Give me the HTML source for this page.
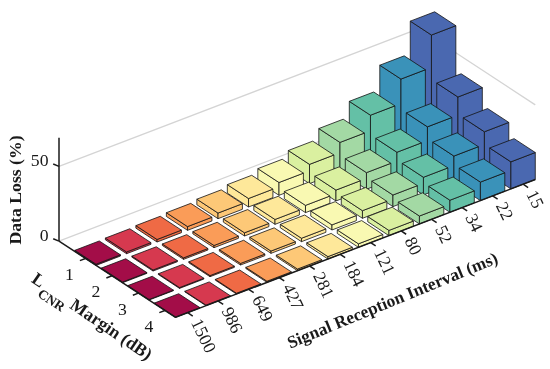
<!DOCTYPE html>
<html lang="en"><head><meta charset="utf-8"><title>Data Loss chart</title>
<style>html,body{margin:0;padding:0;background:#fff}body{width:550px;height:369px;overflow:hidden}svg{display:block}</style></head>
<body>
<svg width="550" height="369" viewBox="0 0 550 369">
<rect width="550" height="369" fill="#ffffff"/>
<line x1="59.00" y1="241.10" x2="418.78" y2="103.28" stroke="#d4d4d4" stroke-width="1.3" stroke-linecap="butt"/>
<line x1="418.78" y1="103.28" x2="535.29" y2="179.57" stroke="#d4d4d4" stroke-width="1.3" stroke-linecap="butt"/>
<line x1="59.00" y1="166.40" x2="418.78" y2="28.58" stroke="#d4d4d4" stroke-width="1.3" stroke-linecap="butt"/>
<line x1="418.78" y1="28.58" x2="535.29" y2="104.87" stroke="#d4d4d4" stroke-width="1.3" stroke-linecap="butt"/>
<polygon points="410.28,123.02 431.46,136.90 431.46,35.03 410.28,21.15" fill="#4a68b0" stroke="#141414" stroke-width="0.8" stroke-linejoin="round"/>
<polygon points="431.46,136.90 455.85,127.55 455.85,25.68 431.46,35.03" fill="#4a68b0" stroke="#141414" stroke-width="0.8" stroke-linejoin="round"/>
<polygon points="410.28,21.15 431.46,35.03 455.85,25.68 434.67,11.81" fill="#4a68b0" stroke="#141414" stroke-width="0.8" stroke-linejoin="round"/>
<polygon points="379.79,134.70 400.97,148.58 400.97,79.06 379.79,65.19" fill="#3a92b9" stroke="#141414" stroke-width="0.8" stroke-linejoin="round"/>
<polygon points="400.97,148.58 425.36,139.23 425.36,69.72 400.97,79.06" fill="#3a92b9" stroke="#141414" stroke-width="0.8" stroke-linejoin="round"/>
<polygon points="379.79,65.19 400.97,79.06 425.36,69.72 404.18,55.85" fill="#3a92b9" stroke="#141414" stroke-width="0.8" stroke-linejoin="round"/>
<polygon points="349.30,146.38 370.48,160.26 370.48,115.21 349.30,101.34" fill="#64c0a6" stroke="#141414" stroke-width="0.8" stroke-linejoin="round"/>
<polygon points="370.48,160.26 394.87,150.91 394.87,105.87 370.48,115.21" fill="#64c0a6" stroke="#141414" stroke-width="0.8" stroke-linejoin="round"/>
<polygon points="349.30,101.34 370.48,115.21 394.87,105.87 373.69,92.00" fill="#64c0a6" stroke="#141414" stroke-width="0.8" stroke-linejoin="round"/>
<polygon points="318.81,158.06 339.99,171.94 339.99,142.42 318.81,128.55" fill="#a3d9a4" stroke="#141414" stroke-width="0.8" stroke-linejoin="round"/>
<polygon points="339.99,171.94 364.38,162.59 364.38,133.08 339.99,142.42" fill="#a3d9a4" stroke="#141414" stroke-width="0.8" stroke-linejoin="round"/>
<polygon points="318.81,128.55 339.99,142.42 364.38,133.08 343.20,119.21" fill="#a3d9a4" stroke="#141414" stroke-width="0.8" stroke-linejoin="round"/>
<polygon points="288.32,169.74 309.50,183.62 309.50,164.37 288.32,150.50" fill="#daf0a0" stroke="#141414" stroke-width="0.8" stroke-linejoin="round"/>
<polygon points="309.50,183.62 333.89,174.27 333.89,155.03 309.50,164.37" fill="#daf0a0" stroke="#141414" stroke-width="0.8" stroke-linejoin="round"/>
<polygon points="288.32,150.50 309.50,164.37 333.89,155.03 312.71,141.15" fill="#daf0a0" stroke="#141414" stroke-width="0.8" stroke-linejoin="round"/>
<polygon points="257.83,181.42 279.01,195.30 279.01,182.51 257.83,168.64" fill="#f9f9b2" stroke="#141414" stroke-width="0.8" stroke-linejoin="round"/>
<polygon points="279.01,195.30 303.40,185.95 303.40,173.17 279.01,182.51" fill="#f9f9b2" stroke="#141414" stroke-width="0.8" stroke-linejoin="round"/>
<polygon points="257.83,168.64 279.01,182.51 303.40,173.17 282.22,159.29" fill="#f9f9b2" stroke="#141414" stroke-width="0.8" stroke-linejoin="round"/>
<polygon points="227.34,193.10 248.52,206.98 248.52,198.51 227.34,184.63" fill="#fee89a" stroke="#141414" stroke-width="0.8" stroke-linejoin="round"/>
<polygon points="248.52,206.98 272.91,197.63 272.91,189.16 248.52,198.51" fill="#fee89a" stroke="#141414" stroke-width="0.8" stroke-linejoin="round"/>
<polygon points="227.34,184.63 248.52,198.51 272.91,189.16 251.73,175.29" fill="#fee89a" stroke="#141414" stroke-width="0.8" stroke-linejoin="round"/>
<polygon points="196.85,204.78 218.03,218.66 218.03,213.05 196.85,199.18" fill="#fdc877" stroke="#141414" stroke-width="0.8" stroke-linejoin="round"/>
<polygon points="218.03,218.66 242.42,209.31 242.42,203.70 218.03,213.05" fill="#fdc877" stroke="#141414" stroke-width="0.8" stroke-linejoin="round"/>
<polygon points="196.85,199.18 218.03,213.05 242.42,203.70 221.24,189.83" fill="#fdc877" stroke="#141414" stroke-width="0.8" stroke-linejoin="round"/>
<polygon points="166.36,216.46 187.54,230.34 187.54,226.58 166.36,212.71" fill="#fa9c58" stroke="#141414" stroke-width="0.8" stroke-linejoin="round"/>
<polygon points="187.54,230.34 211.93,220.99 211.93,217.24 187.54,226.58" fill="#fa9c58" stroke="#141414" stroke-width="0.8" stroke-linejoin="round"/>
<polygon points="166.36,212.71 187.54,226.58 211.93,217.24 190.75,203.37" fill="#fa9c58" stroke="#141414" stroke-width="0.8" stroke-linejoin="round"/>
<polygon points="135.87,228.14 157.05,242.02 157.05,239.49 135.87,225.61" fill="#ef6a45" stroke="#141414" stroke-width="0.8" stroke-linejoin="round"/>
<polygon points="157.05,242.02 181.44,232.67 181.44,230.14 157.05,239.49" fill="#ef6a45" stroke="#141414" stroke-width="0.8" stroke-linejoin="round"/>
<polygon points="135.87,225.61 157.05,239.49 181.44,230.14 160.26,216.27" fill="#ef6a45" stroke="#141414" stroke-width="0.8" stroke-linejoin="round"/>
<polygon points="105.38,239.82 126.56,253.70 126.56,251.97 105.38,238.10" fill="#d6394f" stroke="#141414" stroke-width="0.8" stroke-linejoin="round"/>
<polygon points="126.56,253.70 150.95,244.35 150.95,242.63 126.56,251.97" fill="#d6394f" stroke="#141414" stroke-width="0.8" stroke-linejoin="round"/>
<polygon points="105.38,238.10 126.56,251.97 150.95,242.63 129.77,228.75" fill="#d6394f" stroke="#141414" stroke-width="0.8" stroke-linejoin="round"/>
<polygon points="74.89,251.50 96.07,265.38 96.07,264.18 74.89,250.31" fill="#a30d48" stroke="#141414" stroke-width="0.8" stroke-linejoin="round"/>
<polygon points="96.07,265.38 120.46,256.03 120.46,254.84 96.07,264.18" fill="#a30d48" stroke="#141414" stroke-width="0.8" stroke-linejoin="round"/>
<polygon points="74.89,250.31 96.07,264.18 120.46,254.84 99.28,240.96" fill="#a30d48" stroke="#141414" stroke-width="0.8" stroke-linejoin="round"/>
<polygon points="436.76,140.36 457.94,154.24 457.94,96.99 436.76,83.11" fill="#4a68b0" stroke="#141414" stroke-width="0.8" stroke-linejoin="round"/>
<polygon points="457.94,154.24 482.33,144.89 482.33,87.64 457.94,96.99" fill="#4a68b0" stroke="#141414" stroke-width="0.8" stroke-linejoin="round"/>
<polygon points="436.76,83.11 457.94,96.99 482.33,87.64 461.15,73.77" fill="#4a68b0" stroke="#141414" stroke-width="0.8" stroke-linejoin="round"/>
<polygon points="406.27,152.04 427.45,165.92 427.45,126.82 406.27,112.95" fill="#3a92b9" stroke="#141414" stroke-width="0.8" stroke-linejoin="round"/>
<polygon points="427.45,165.92 451.84,156.57 451.84,117.48 427.45,126.82" fill="#3a92b9" stroke="#141414" stroke-width="0.8" stroke-linejoin="round"/>
<polygon points="406.27,112.95 427.45,126.82 451.84,117.48 430.66,103.61" fill="#3a92b9" stroke="#141414" stroke-width="0.8" stroke-linejoin="round"/>
<polygon points="375.78,163.72 396.96,177.60 396.96,152.24 375.78,138.37" fill="#64c0a6" stroke="#141414" stroke-width="0.8" stroke-linejoin="round"/>
<polygon points="396.96,177.60 421.35,168.25 421.35,142.89 396.96,152.24" fill="#64c0a6" stroke="#141414" stroke-width="0.8" stroke-linejoin="round"/>
<polygon points="375.78,138.37 396.96,152.24 421.35,142.89 400.17,129.02" fill="#64c0a6" stroke="#141414" stroke-width="0.8" stroke-linejoin="round"/>
<polygon points="345.29,175.40 366.47,189.28 366.47,172.63 345.29,158.76" fill="#a3d9a4" stroke="#141414" stroke-width="0.8" stroke-linejoin="round"/>
<polygon points="366.47,189.28 390.86,179.93 390.86,163.29 366.47,172.63" fill="#a3d9a4" stroke="#141414" stroke-width="0.8" stroke-linejoin="round"/>
<polygon points="345.29,158.76 366.47,172.63 390.86,163.29 369.68,149.42" fill="#a3d9a4" stroke="#141414" stroke-width="0.8" stroke-linejoin="round"/>
<polygon points="314.80,187.08 335.98,200.96 335.98,190.08 314.80,176.20" fill="#daf0a0" stroke="#141414" stroke-width="0.8" stroke-linejoin="round"/>
<polygon points="335.98,200.96 360.37,191.61 360.37,180.73 335.98,190.08" fill="#daf0a0" stroke="#141414" stroke-width="0.8" stroke-linejoin="round"/>
<polygon points="314.80,176.20 335.98,190.08 360.37,180.73 339.19,166.86" fill="#daf0a0" stroke="#141414" stroke-width="0.8" stroke-linejoin="round"/>
<polygon points="284.31,198.76 305.49,212.64 305.49,205.38 284.31,191.51" fill="#f9f9b2" stroke="#141414" stroke-width="0.8" stroke-linejoin="round"/>
<polygon points="305.49,212.64 329.88,203.29 329.88,196.04 305.49,205.38" fill="#f9f9b2" stroke="#141414" stroke-width="0.8" stroke-linejoin="round"/>
<polygon points="284.31,191.51 305.49,205.38 329.88,196.04 308.70,182.17" fill="#f9f9b2" stroke="#141414" stroke-width="0.8" stroke-linejoin="round"/>
<polygon points="253.82,210.44 275.00,224.32 275.00,219.48 253.82,205.61" fill="#fee89a" stroke="#141414" stroke-width="0.8" stroke-linejoin="round"/>
<polygon points="275.00,224.32 299.39,214.97 299.39,210.14 275.00,219.48" fill="#fee89a" stroke="#141414" stroke-width="0.8" stroke-linejoin="round"/>
<polygon points="253.82,205.61 275.00,219.48 299.39,210.14 278.21,196.27" fill="#fee89a" stroke="#141414" stroke-width="0.8" stroke-linejoin="round"/>
<polygon points="223.33,222.12 244.51,236.00 244.51,232.77 223.33,218.90" fill="#fdc877" stroke="#141414" stroke-width="0.8" stroke-linejoin="round"/>
<polygon points="244.51,236.00 268.90,226.65 268.90,223.43 244.51,232.77" fill="#fdc877" stroke="#141414" stroke-width="0.8" stroke-linejoin="round"/>
<polygon points="223.33,218.90 244.51,232.77 268.90,223.43 247.72,209.55" fill="#fdc877" stroke="#141414" stroke-width="0.8" stroke-linejoin="round"/>
<polygon points="192.84,233.80 214.02,247.68 214.02,245.49 192.84,231.62" fill="#fa9c58" stroke="#141414" stroke-width="0.8" stroke-linejoin="round"/>
<polygon points="214.02,247.68 238.41,238.33 238.41,236.15 214.02,245.49" fill="#fa9c58" stroke="#141414" stroke-width="0.8" stroke-linejoin="round"/>
<polygon points="192.84,231.62 214.02,245.49 238.41,236.15 217.23,222.28" fill="#fa9c58" stroke="#141414" stroke-width="0.8" stroke-linejoin="round"/>
<polygon points="162.35,245.48 183.53,259.36 183.53,257.86 162.35,243.99" fill="#ef6a45" stroke="#141414" stroke-width="0.8" stroke-linejoin="round"/>
<polygon points="183.53,259.36 207.92,250.01 207.92,248.51 183.53,257.86" fill="#ef6a45" stroke="#141414" stroke-width="0.8" stroke-linejoin="round"/>
<polygon points="162.35,243.99 183.53,257.86 207.92,248.51 186.74,234.64" fill="#ef6a45" stroke="#141414" stroke-width="0.8" stroke-linejoin="round"/>
<polygon points="131.86,257.16 153.04,271.04 153.04,269.99 131.86,256.12" fill="#d6394f" stroke="#141414" stroke-width="0.8" stroke-linejoin="round"/>
<polygon points="153.04,271.04 177.43,261.69 177.43,260.64 153.04,269.99" fill="#d6394f" stroke="#141414" stroke-width="0.8" stroke-linejoin="round"/>
<polygon points="131.86,256.12 153.04,269.99 177.43,260.64 156.25,246.77" fill="#d6394f" stroke="#141414" stroke-width="0.8" stroke-linejoin="round"/>
<polygon points="101.37,268.84 122.55,282.72 122.55,281.97 101.37,268.09" fill="#a30d48" stroke="#141414" stroke-width="0.8" stroke-linejoin="round"/>
<polygon points="122.55,282.72 146.94,273.37 146.94,272.62 122.55,281.97" fill="#a30d48" stroke="#141414" stroke-width="0.8" stroke-linejoin="round"/>
<polygon points="101.37,268.09 122.55,281.97 146.94,272.62 125.76,258.75" fill="#a30d48" stroke="#141414" stroke-width="0.8" stroke-linejoin="round"/>
<polygon points="463.24,157.70 484.42,171.58 484.42,131.76 463.24,117.88" fill="#4a68b0" stroke="#141414" stroke-width="0.8" stroke-linejoin="round"/>
<polygon points="484.42,171.58 508.81,162.23 508.81,122.41 484.42,131.76" fill="#4a68b0" stroke="#141414" stroke-width="0.8" stroke-linejoin="round"/>
<polygon points="463.24,117.88 484.42,131.76 508.81,122.41 487.63,108.54" fill="#4a68b0" stroke="#141414" stroke-width="0.8" stroke-linejoin="round"/>
<polygon points="432.75,169.38 453.93,183.26 453.93,156.05 432.75,142.18" fill="#3a92b9" stroke="#141414" stroke-width="0.8" stroke-linejoin="round"/>
<polygon points="453.93,183.26 478.32,173.91 478.32,146.70 453.93,156.05" fill="#3a92b9" stroke="#141414" stroke-width="0.8" stroke-linejoin="round"/>
<polygon points="432.75,142.18 453.93,156.05 478.32,146.70 457.14,132.83" fill="#3a92b9" stroke="#141414" stroke-width="0.8" stroke-linejoin="round"/>
<polygon points="402.26,181.06 423.44,194.94 423.44,177.27 402.26,163.40" fill="#64c0a6" stroke="#141414" stroke-width="0.8" stroke-linejoin="round"/>
<polygon points="423.44,194.94 447.83,185.59 447.83,167.92 423.44,177.27" fill="#64c0a6" stroke="#141414" stroke-width="0.8" stroke-linejoin="round"/>
<polygon points="402.26,163.40 423.44,177.27 447.83,167.92 426.65,154.05" fill="#64c0a6" stroke="#141414" stroke-width="0.8" stroke-linejoin="round"/>
<polygon points="371.77,192.74 392.95,206.62 392.95,195.00 371.77,181.13" fill="#a3d9a4" stroke="#141414" stroke-width="0.8" stroke-linejoin="round"/>
<polygon points="392.95,206.62 417.34,197.27 417.34,185.66 392.95,195.00" fill="#a3d9a4" stroke="#141414" stroke-width="0.8" stroke-linejoin="round"/>
<polygon points="371.77,181.13 392.95,195.00 417.34,185.66 396.16,171.79" fill="#a3d9a4" stroke="#141414" stroke-width="0.8" stroke-linejoin="round"/>
<polygon points="341.28,204.42 362.46,218.30 362.46,210.68 341.28,196.81" fill="#daf0a0" stroke="#141414" stroke-width="0.8" stroke-linejoin="round"/>
<polygon points="362.46,218.30 386.85,208.95 386.85,201.34 362.46,210.68" fill="#daf0a0" stroke="#141414" stroke-width="0.8" stroke-linejoin="round"/>
<polygon points="341.28,196.81 362.46,210.68 386.85,201.34 365.67,187.47" fill="#daf0a0" stroke="#141414" stroke-width="0.8" stroke-linejoin="round"/>
<polygon points="310.79,216.10 331.97,229.98 331.97,224.88 310.79,211.01" fill="#f9f9b2" stroke="#141414" stroke-width="0.8" stroke-linejoin="round"/>
<polygon points="331.97,229.98 356.36,220.63 356.36,215.54 331.97,224.88" fill="#f9f9b2" stroke="#141414" stroke-width="0.8" stroke-linejoin="round"/>
<polygon points="310.79,211.01 331.97,224.88 356.36,215.54 335.18,201.67" fill="#f9f9b2" stroke="#141414" stroke-width="0.8" stroke-linejoin="round"/>
<polygon points="280.30,227.78 301.48,241.66 301.48,238.25 280.30,224.37" fill="#fee89a" stroke="#141414" stroke-width="0.8" stroke-linejoin="round"/>
<polygon points="301.48,241.66 325.87,232.31 325.87,228.90 301.48,238.25" fill="#fee89a" stroke="#141414" stroke-width="0.8" stroke-linejoin="round"/>
<polygon points="280.30,224.37 301.48,238.25 325.87,228.90 304.69,215.03" fill="#fee89a" stroke="#141414" stroke-width="0.8" stroke-linejoin="round"/>
<polygon points="249.81,239.46 270.99,253.34 270.99,251.04 249.81,237.17" fill="#fdc877" stroke="#141414" stroke-width="0.8" stroke-linejoin="round"/>
<polygon points="270.99,253.34 295.38,243.99 295.38,241.70 270.99,251.04" fill="#fdc877" stroke="#141414" stroke-width="0.8" stroke-linejoin="round"/>
<polygon points="249.81,237.17 270.99,251.04 295.38,241.70 274.20,227.82" fill="#fdc877" stroke="#141414" stroke-width="0.8" stroke-linejoin="round"/>
<polygon points="219.32,251.14 240.50,265.02 240.50,263.44 219.32,249.57" fill="#fa9c58" stroke="#141414" stroke-width="0.8" stroke-linejoin="round"/>
<polygon points="240.50,265.02 264.89,255.67 264.89,254.10 240.50,263.44" fill="#fa9c58" stroke="#141414" stroke-width="0.8" stroke-linejoin="round"/>
<polygon points="219.32,249.57 240.50,263.44 264.89,254.10 243.71,240.23" fill="#fa9c58" stroke="#141414" stroke-width="0.8" stroke-linejoin="round"/>
<polygon points="188.83,262.82 210.01,276.70 210.01,275.60 188.83,261.73" fill="#ef6a45" stroke="#141414" stroke-width="0.8" stroke-linejoin="round"/>
<polygon points="210.01,276.70 234.40,267.35 234.40,266.26 210.01,275.60" fill="#ef6a45" stroke="#141414" stroke-width="0.8" stroke-linejoin="round"/>
<polygon points="188.83,261.73 210.01,275.60 234.40,266.26 213.22,252.38" fill="#ef6a45" stroke="#141414" stroke-width="0.8" stroke-linejoin="round"/>
<polygon points="158.34,274.50 179.52,288.38 179.52,287.59 158.34,273.72" fill="#d6394f" stroke="#141414" stroke-width="0.8" stroke-linejoin="round"/>
<polygon points="179.52,288.38 203.91,279.03 203.91,278.25 179.52,287.59" fill="#d6394f" stroke="#141414" stroke-width="0.8" stroke-linejoin="round"/>
<polygon points="158.34,273.72 179.52,287.59 203.91,278.25 182.73,264.38" fill="#d6394f" stroke="#141414" stroke-width="0.8" stroke-linejoin="round"/>
<polygon points="127.85,286.18 149.03,300.06 149.03,299.48 127.85,285.61" fill="#a30d48" stroke="#141414" stroke-width="0.8" stroke-linejoin="round"/>
<polygon points="149.03,300.06 173.42,290.71 173.42,290.14 149.03,299.48" fill="#a30d48" stroke="#141414" stroke-width="0.8" stroke-linejoin="round"/>
<polygon points="127.85,285.61 149.03,299.48 173.42,290.14 152.24,276.26" fill="#a30d48" stroke="#141414" stroke-width="0.8" stroke-linejoin="round"/>
<polygon points="489.72,175.04 510.90,188.92 510.90,161.84 489.72,147.97" fill="#4a68b0" stroke="#141414" stroke-width="0.8" stroke-linejoin="round"/>
<polygon points="510.90,188.92 535.29,179.57 535.29,152.50 510.90,161.84" fill="#4a68b0" stroke="#141414" stroke-width="0.8" stroke-linejoin="round"/>
<polygon points="489.72,147.97 510.90,161.84 535.29,152.50 514.11,138.63" fill="#4a68b0" stroke="#141414" stroke-width="0.8" stroke-linejoin="round"/>
<polygon points="459.23,186.72 480.41,200.60 480.41,182.08 459.23,168.21" fill="#3a92b9" stroke="#141414" stroke-width="0.8" stroke-linejoin="round"/>
<polygon points="480.41,200.60 504.80,191.25 504.80,172.74 480.41,182.08" fill="#3a92b9" stroke="#141414" stroke-width="0.8" stroke-linejoin="round"/>
<polygon points="459.23,168.21 480.41,182.08 504.80,172.74 483.62,158.87" fill="#3a92b9" stroke="#141414" stroke-width="0.8" stroke-linejoin="round"/>
<polygon points="428.74,198.40 449.92,212.28 449.92,200.23 428.74,186.36" fill="#64c0a6" stroke="#141414" stroke-width="0.8" stroke-linejoin="round"/>
<polygon points="449.92,212.28 474.31,202.93 474.31,190.89 449.92,200.23" fill="#64c0a6" stroke="#141414" stroke-width="0.8" stroke-linejoin="round"/>
<polygon points="428.74,186.36 449.92,200.23 474.31,190.89 453.13,177.02" fill="#64c0a6" stroke="#141414" stroke-width="0.8" stroke-linejoin="round"/>
<polygon points="398.25,210.08 419.43,223.96 419.43,216.02 398.25,202.15" fill="#a3d9a4" stroke="#141414" stroke-width="0.8" stroke-linejoin="round"/>
<polygon points="419.43,223.96 443.82,214.61 443.82,206.68 419.43,216.02" fill="#a3d9a4" stroke="#141414" stroke-width="0.8" stroke-linejoin="round"/>
<polygon points="398.25,202.15 419.43,216.02 443.82,206.68 422.64,192.80" fill="#a3d9a4" stroke="#141414" stroke-width="0.8" stroke-linejoin="round"/>
<polygon points="367.76,221.76 388.94,235.64 388.94,230.41 367.76,216.54" fill="#daf0a0" stroke="#141414" stroke-width="0.8" stroke-linejoin="round"/>
<polygon points="388.94,235.64 413.33,226.29 413.33,221.07 388.94,230.41" fill="#daf0a0" stroke="#141414" stroke-width="0.8" stroke-linejoin="round"/>
<polygon points="367.76,216.54 388.94,230.41 413.33,221.07 392.15,207.20" fill="#daf0a0" stroke="#141414" stroke-width="0.8" stroke-linejoin="round"/>
<polygon points="337.27,233.44 358.45,247.32 358.45,243.80 337.27,229.93" fill="#f9f9b2" stroke="#141414" stroke-width="0.8" stroke-linejoin="round"/>
<polygon points="358.45,247.32 382.84,237.97 382.84,234.46 358.45,243.80" fill="#f9f9b2" stroke="#141414" stroke-width="0.8" stroke-linejoin="round"/>
<polygon points="337.27,229.93 358.45,243.80 382.84,234.46 361.66,220.59" fill="#f9f9b2" stroke="#141414" stroke-width="0.8" stroke-linejoin="round"/>
<polygon points="306.78,245.12 327.96,259.00 327.96,256.62 306.78,242.75" fill="#fee89a" stroke="#141414" stroke-width="0.8" stroke-linejoin="round"/>
<polygon points="327.96,259.00 352.35,249.65 352.35,247.28 327.96,256.62" fill="#fee89a" stroke="#141414" stroke-width="0.8" stroke-linejoin="round"/>
<polygon points="306.78,242.75 327.96,256.62 352.35,247.28 331.17,233.41" fill="#fee89a" stroke="#141414" stroke-width="0.8" stroke-linejoin="round"/>
<polygon points="276.29,256.80 297.47,270.68 297.47,269.06 276.29,255.19" fill="#fdc877" stroke="#141414" stroke-width="0.8" stroke-linejoin="round"/>
<polygon points="297.47,270.68 321.86,261.33 321.86,259.72 297.47,269.06" fill="#fdc877" stroke="#141414" stroke-width="0.8" stroke-linejoin="round"/>
<polygon points="276.29,255.19 297.47,269.06 321.86,259.72 300.68,245.85" fill="#fdc877" stroke="#141414" stroke-width="0.8" stroke-linejoin="round"/>
<polygon points="245.80,268.48 266.98,282.36 266.98,281.23 245.80,267.36" fill="#fa9c58" stroke="#141414" stroke-width="0.8" stroke-linejoin="round"/>
<polygon points="266.98,282.36 291.37,273.01 291.37,271.89 266.98,281.23" fill="#fa9c58" stroke="#141414" stroke-width="0.8" stroke-linejoin="round"/>
<polygon points="245.80,267.36 266.98,281.23 291.37,271.89 270.19,258.02" fill="#fa9c58" stroke="#141414" stroke-width="0.8" stroke-linejoin="round"/>
<polygon points="215.31,280.16 236.49,294.04 236.49,293.24 215.31,279.36" fill="#ef6a45" stroke="#141414" stroke-width="0.8" stroke-linejoin="round"/>
<polygon points="236.49,294.04 260.88,284.69 260.88,283.89 236.49,293.24" fill="#ef6a45" stroke="#141414" stroke-width="0.8" stroke-linejoin="round"/>
<polygon points="215.31,279.36 236.49,293.24 260.88,283.89 239.70,270.02" fill="#ef6a45" stroke="#141414" stroke-width="0.8" stroke-linejoin="round"/>
<polygon points="184.82,291.84 206.00,305.72 206.00,305.13 184.82,291.26" fill="#d6394f" stroke="#141414" stroke-width="0.8" stroke-linejoin="round"/>
<polygon points="206.00,305.72 230.39,296.37 230.39,295.78 206.00,305.13" fill="#d6394f" stroke="#141414" stroke-width="0.8" stroke-linejoin="round"/>
<polygon points="184.82,291.26 206.00,305.13 230.39,295.78 209.21,281.91" fill="#d6394f" stroke="#141414" stroke-width="0.8" stroke-linejoin="round"/>
<polygon points="154.33,303.52 175.51,317.40 175.51,316.95 154.33,303.08" fill="#a30d48" stroke="#141414" stroke-width="0.8" stroke-linejoin="round"/>
<polygon points="175.51,317.40 199.90,308.05 199.90,307.60 175.51,316.95" fill="#a30d48" stroke="#141414" stroke-width="0.8" stroke-linejoin="round"/>
<polygon points="154.33,303.08 175.51,316.95 199.90,307.60 178.72,293.73" fill="#a30d48" stroke="#141414" stroke-width="0.8" stroke-linejoin="round"/>
<line x1="59.00" y1="241.10" x2="59.00" y2="137.72" stroke="#1a1a1a" stroke-width="1.5" stroke-linecap="butt"/>
<line x1="59.00" y1="241.10" x2="175.51" y2="317.40" stroke="#1a1a1a" stroke-width="1.5" stroke-linecap="butt"/>
<line x1="175.51" y1="317.40" x2="535.29" y2="179.57" stroke="#1a1a1a" stroke-width="1.5" stroke-linecap="butt"/>
<line x1="59.00" y1="241.10" x2="53.20" y2="238.70" stroke="#1a1a1a" stroke-width="1.5" stroke-linecap="butt"/>
<text x="48.50" y="241.10" font-family="'Liberation Serif', 'Times New Roman', serif" font-size="17.7" text-anchor="end" fill="#1a1a1a">0</text>
<line x1="59.00" y1="166.40" x2="53.20" y2="164.00" stroke="#1a1a1a" stroke-width="1.5" stroke-linecap="butt"/>
<text x="48.50" y="166.40" font-family="'Liberation Serif', 'Times New Roman', serif" font-size="17.7" text-anchor="end" fill="#1a1a1a">50</text>
<line x1="85.48" y1="258.44" x2="79.88" y2="260.59" stroke="#1a1a1a" stroke-width="1.5" stroke-linecap="butt"/>
<text x="69.48" y="279.94" font-family="'Liberation Serif', 'Times New Roman', serif" font-size="17.7" text-anchor="middle" fill="#1a1a1a">1</text>
<line x1="111.96" y1="275.78" x2="106.36" y2="277.93" stroke="#1a1a1a" stroke-width="1.5" stroke-linecap="butt"/>
<text x="95.96" y="297.28" font-family="'Liberation Serif', 'Times New Roman', serif" font-size="17.7" text-anchor="middle" fill="#1a1a1a">2</text>
<line x1="138.44" y1="293.12" x2="132.84" y2="295.27" stroke="#1a1a1a" stroke-width="1.5" stroke-linecap="butt"/>
<text x="122.44" y="314.62" font-family="'Liberation Serif', 'Times New Roman', serif" font-size="17.7" text-anchor="middle" fill="#1a1a1a">3</text>
<line x1="164.92" y1="310.46" x2="159.32" y2="312.61" stroke="#1a1a1a" stroke-width="1.5" stroke-linecap="butt"/>
<text x="148.92" y="331.96" font-family="'Liberation Serif', 'Times New Roman', serif" font-size="17.7" text-anchor="middle" fill="#1a1a1a">4</text>
<line x1="187.71" y1="312.72" x2="192.73" y2="316.01" stroke="#1a1a1a" stroke-width="1.5" stroke-linecap="butt"/>
<text transform="translate(190.71,322.32) rotate(64.5)" font-family="'Liberation Serif', 'Times New Roman', serif" font-size="17.7" text-anchor="start" fill="#1a1a1a">1500</text>
<line x1="218.20" y1="301.04" x2="223.22" y2="304.33" stroke="#1a1a1a" stroke-width="1.5" stroke-linecap="butt"/>
<text transform="translate(221.20,310.64) rotate(64.5)" font-family="'Liberation Serif', 'Times New Roman', serif" font-size="17.7" text-anchor="start" fill="#1a1a1a">986</text>
<line x1="248.69" y1="289.36" x2="253.71" y2="292.65" stroke="#1a1a1a" stroke-width="1.5" stroke-linecap="butt"/>
<text transform="translate(251.69,298.96) rotate(64.5)" font-family="'Liberation Serif', 'Times New Roman', serif" font-size="17.7" text-anchor="start" fill="#1a1a1a">649</text>
<line x1="279.18" y1="277.68" x2="284.20" y2="280.97" stroke="#1a1a1a" stroke-width="1.5" stroke-linecap="butt"/>
<text transform="translate(282.18,287.28) rotate(64.5)" font-family="'Liberation Serif', 'Times New Roman', serif" font-size="17.7" text-anchor="start" fill="#1a1a1a">427</text>
<line x1="309.67" y1="266.00" x2="314.69" y2="269.29" stroke="#1a1a1a" stroke-width="1.5" stroke-linecap="butt"/>
<text transform="translate(312.67,275.60) rotate(64.5)" font-family="'Liberation Serif', 'Times New Roman', serif" font-size="17.7" text-anchor="start" fill="#1a1a1a">281</text>
<line x1="340.16" y1="254.32" x2="345.18" y2="257.61" stroke="#1a1a1a" stroke-width="1.5" stroke-linecap="butt"/>
<text transform="translate(343.16,263.92) rotate(64.5)" font-family="'Liberation Serif', 'Times New Roman', serif" font-size="17.7" text-anchor="start" fill="#1a1a1a">184</text>
<line x1="370.65" y1="242.64" x2="375.67" y2="245.93" stroke="#1a1a1a" stroke-width="1.5" stroke-linecap="butt"/>
<text transform="translate(373.65,252.24) rotate(64.5)" font-family="'Liberation Serif', 'Times New Roman', serif" font-size="17.7" text-anchor="start" fill="#1a1a1a">121</text>
<line x1="401.14" y1="230.96" x2="406.16" y2="234.25" stroke="#1a1a1a" stroke-width="1.5" stroke-linecap="butt"/>
<text transform="translate(404.14,240.56) rotate(64.5)" font-family="'Liberation Serif', 'Times New Roman', serif" font-size="17.7" text-anchor="start" fill="#1a1a1a">80</text>
<line x1="431.63" y1="219.28" x2="436.65" y2="222.57" stroke="#1a1a1a" stroke-width="1.5" stroke-linecap="butt"/>
<text transform="translate(434.63,228.88) rotate(64.5)" font-family="'Liberation Serif', 'Times New Roman', serif" font-size="17.7" text-anchor="start" fill="#1a1a1a">52</text>
<line x1="462.12" y1="207.60" x2="467.14" y2="210.89" stroke="#1a1a1a" stroke-width="1.5" stroke-linecap="butt"/>
<text transform="translate(465.12,217.20) rotate(64.5)" font-family="'Liberation Serif', 'Times New Roman', serif" font-size="17.7" text-anchor="start" fill="#1a1a1a">34</text>
<line x1="492.61" y1="195.92" x2="497.63" y2="199.21" stroke="#1a1a1a" stroke-width="1.5" stroke-linecap="butt"/>
<text transform="translate(495.61,205.52) rotate(64.5)" font-family="'Liberation Serif', 'Times New Roman', serif" font-size="17.7" text-anchor="start" fill="#1a1a1a">22</text>
<line x1="523.10" y1="184.24" x2="528.12" y2="187.53" stroke="#1a1a1a" stroke-width="1.5" stroke-linecap="butt"/>
<text transform="translate(526.10,193.84) rotate(64.5)" font-family="'Liberation Serif', 'Times New Roman', serif" font-size="17.7" text-anchor="start" fill="#1a1a1a">15</text>
<text transform="translate(21,190) rotate(-90)" font-family="'Liberation Serif', 'Times New Roman', serif" font-size="17.7" font-weight="bold" text-anchor="middle" fill="#1a1a1a">Data Loss (%)</text>
<text transform="translate(394.6,305.6) rotate(-22.4)" font-family="'Liberation Serif', 'Times New Roman', serif" font-size="17.35" font-weight="bold" text-anchor="middle" fill="#1a1a1a">Signal Reception Interval (ms)</text>
<g transform="translate(30.4,281.4) rotate(34.2)" font-family="'Liberation Serif', 'Times New Roman', serif" font-weight="bold" fill="#1a1a1a"><text x="0" y="0" font-size="17.7">L</text><text x="13.3" y="8.2" font-size="13.5">CNR</text><text x="46.45" y="0" font-size="17.7">Margin (dB)</text></g>
</svg>
</body></html>
